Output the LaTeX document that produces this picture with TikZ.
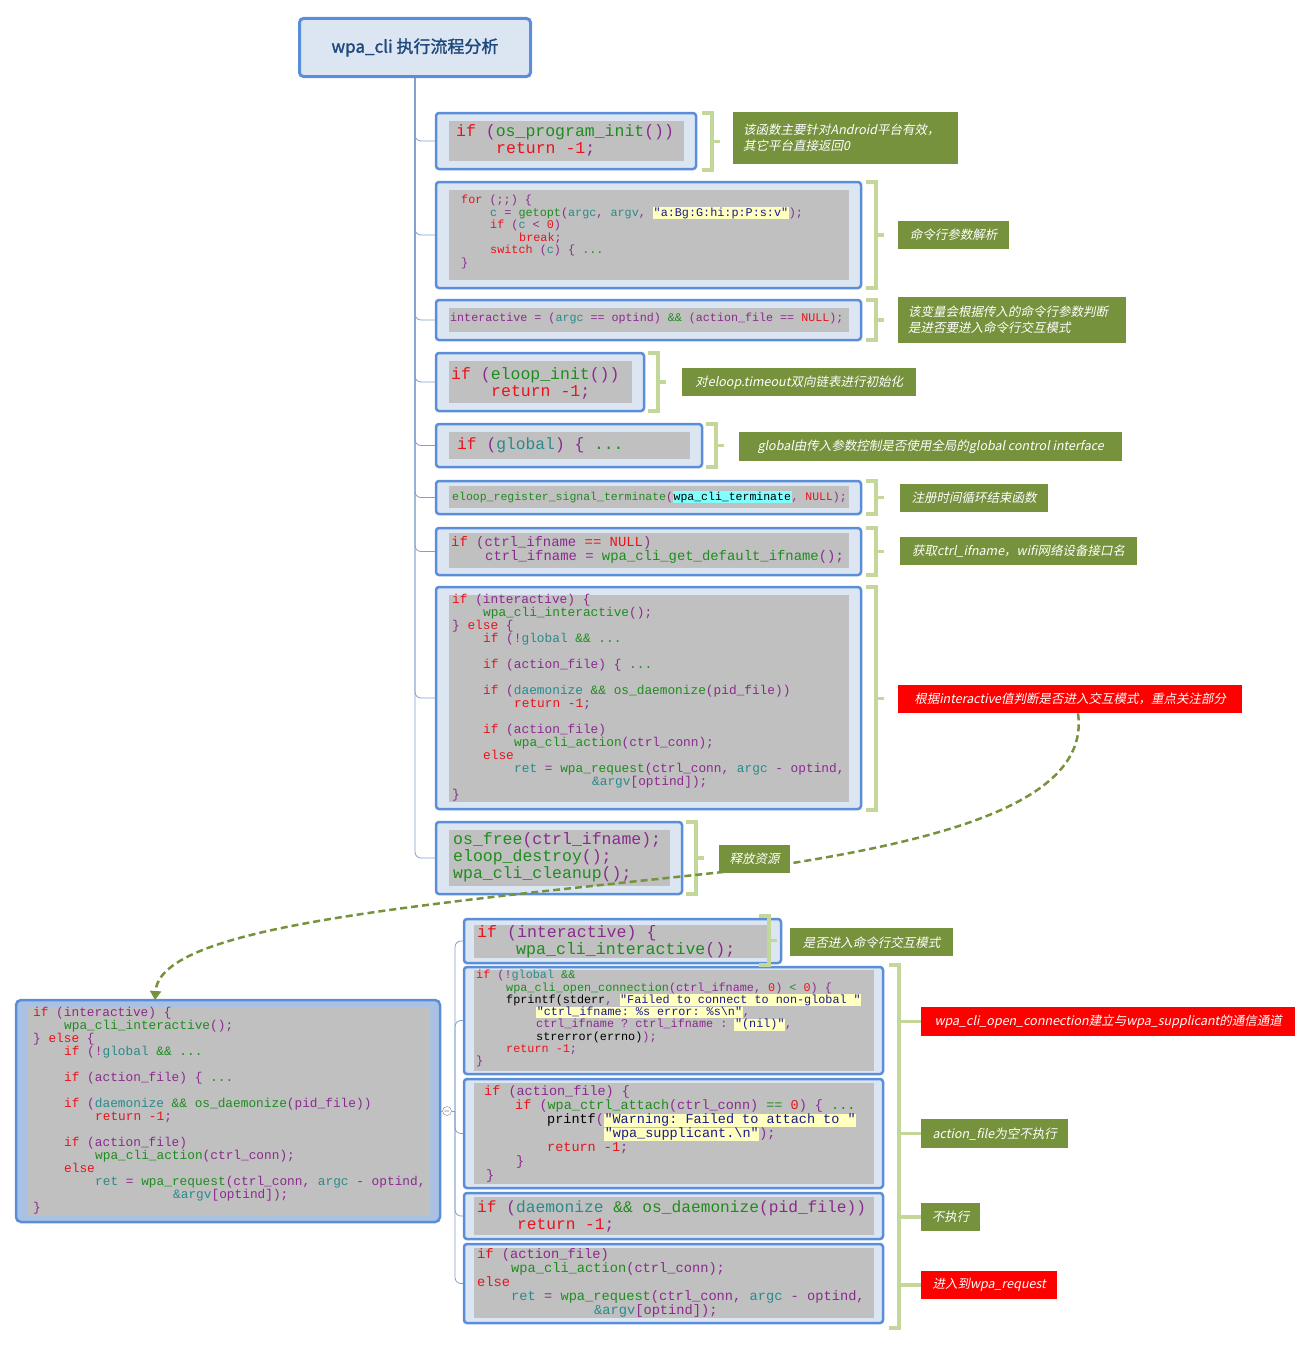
\documentclass[tikz,border=0pt]{standalone}
\usepackage{fontspec}
\usetikzlibrary{fit,arrows.meta}
\setmonofont{Liberation Mono}
\newfontfamily\cjki{Noto Sans CJK SC}[FakeSlant=0.2]
\newfontfamily\cjkb{Noto Sans CJK SC}[FakeBold=1.5]
\definecolor{kw}{HTML}{E8131B}
\definecolor{pu}{HTML}{8B2A8E}
\definecolor{gr}{HTML}{1E8C1E}
\definecolor{te}{HTML}{2A8A8A}
\definecolor{nv}{HTML}{1A1A8C}
\definecolor{hl}{HTML}{FFFFC0}
\definecolor{cy}{HTML}{80FFFF}
\definecolor{bbl}{HTML}{5B8ED8}
\definecolor{bfill}{HTML}{DCE6F2}
\definecolor{lbfill}{HTML}{A9C1E3}
\definecolor{codebg}{HTML}{C0C0C0}
\definecolor{lab}{HTML}{76923C}
\definecolor{brk}{HTML}{C4D79B}
\definecolor{treec}{HTML}{7F9FCF}
\definecolor{ttl}{HTML}{1F497D}
\newcommand\ck[1]{\textcolor{kw}{#1}}
\newcommand\cg[1]{\textcolor{gr}{#1}}
\newcommand\ct[1]{\textcolor{te}{#1}}
\newcommand\cbk[1]{\textcolor{black}{#1}}
\newcommand\cst[1]{{\setlength{\fboxsep}{0.6pt}\colorbox{hl}{\textcolor{nv}{#1}}}}
\newcommand\ind[1]{\hspace*{#1pt}}
% \cbox{name}{x1}{y1}{x2}{y2}{ix1}{iy1}{ix2}{iy2}{tx}{size}{skip}{code}
\newcommand\cbox[9]{%
  \node[obox,fit={(#2,#3)(#4,#5)}] (#1) {};
  \fill[codebg] (#6,#7) rectangle (#8,#9);
  \cboxtext}
\newcommand\cboxtext[4]{\node[anchor=north west,inner sep=0,align=left,text=pu,font=\fontsize{#2}{#3}\selectfont\ttfamily] at (#1) {#4};}
\tikzset{
  obox/.style={draw=bbl,line width=2.5pt,fill=bfill,rounded corners=3pt,inner sep=0pt},
  lbl/.style={fill=lab,text=white,font=\fontsize{12.5}{16}\selectfont\cjki,inner sep=0pt,align=left,anchor=north west},
  rlbl/.style={lbl,fill=red},
  brkt/.style={draw=brk,line width=3.5pt},
  tree/.style={draw=treec,line width=0.8pt,rounded corners=6pt},
}
\newcommand\bracket[4]{% x y1 y2 label
  \draw[brkt] (#1-10,#2) -- (#1,#2) -- (#1,#3) -- (#1-10,#3);
  \draw[brkt] (#1,{(#2+#3)/2}) -- (#1+8,{(#2+#3)/2}) coordinate (#4);}
\begin{document}
\begin{tikzpicture}[x=1pt,y=-1pt]
\useasboundingbox (0,0) rectangle (1312,1346);
% title
\node[draw=bbl,line width=3pt,fill=bfill,rounded corners=4pt,minimum width=231pt,minimum height=58pt,text=ttl,font=\fontsize{17}{20}\selectfont\cjkb] (title) at (415,47.5) {wpa\_cli 执行流程分析};

\cbox{b1}{436}{113}{696}{169}{449}{121}{684}{161}{456,124}{16.5}{17}{\ck{if} (\cg{os\_program\_init}())\\\ind{40}\ck{return -1};}
\cbox{b2}{436}{182}{861}{288}{449}{190}{849}{280}{461,195}{11.8}{12.5}{\ck{for} (;;) \{\\\ind{29}\ct{c} = \cg{getopt}(\ct{argc}, \ct{argv}, \cst{"a:Bg:G:hi:p:P:s:v"});\\\ind{29}\ck{if} (\ct{c} < \ck{0})\\\ind{58}\ck{break};\\\ind{29}\ck{switch} (\ct{c}) \{ \cg{...}\\\}}
\cbox{b3}{436}{300}{861}{340}{449}{308}{849}{332}{450,313}{11.7}{13}{interactive = (\ct{argc} == optind) \cg{\&\&} (action\_file == \ck{NULL});}
\cbox{b4}{436}{353}{644}{411}{449}{361}{632}{403}{451,367}{16.5}{17}{\ck{if} (\cg{eloop\_init}())\\\ind{40}\ck{return -1};}
\cbox{b5}{436}{424}{702}{467}{449}{432}{690}{459}{457,437}{16.3}{17}{\ck{if} (\ct{global}) \{ \cg{...}}
\cbox{b6}{436}{481}{861}{514}{449}{486}{849}{508}{452,491}{11.5}{13}{\cg{eloop\_register\_signal\_terminate}({\setlength{\fboxsep}{0.6pt}\colorbox{cy}{\textcolor{black}{wpa\_cli\_terminate}}}, \ck{NULL});}
\cbox{b7}{436}{528}{861}{575}{449}{533}{849}{568}{451,536}{13.9}{14}{\ck{if} (ctrl\_ifname \ck{== NULL})\\\ind{34}ctrl\_ifname = \cg{wpa\_cli\_get\_default\_ifname}();}
\cbox{b8}{436}{587}{861}{809}{449}{595}{849}{802}{452,594}{12.8}{13}{\ck{if} (interactive) \{\\\ind{31}\cg{wpa\_cli\_interactive}();\\\} \ck{else} \{\\\ind{31}\ck{if} (!\ct{global} \cg{\&\& ...}\\[13pt]\ind{31}\ck{if} (action\_file) \{ \cg{...}\\[13pt]\ind{31}\ck{if} (\ct{daemonize} \cg{\&\& os\_daemonize}(pid\_file))\\\ind{62}\ck{return -1};\\[13pt]\ind{31}\ck{if} (action\_file)\\\ind{62}\cg{wpa\_cli\_action}(ctrl\_conn);\\\ind{31}\ck{else}\\\ind{62}\ct{ret} = \cg{wpa\_request}(ctrl\_conn, \ct{argc} - optind,\\\ind{140}\ct{\&argv}[optind]);\\\}}
\cbox{b9}{436}{822}{682}{894}{449}{830}{670}{886}{453,832}{16.5}{17}{\cg{os\_free}(ctrl\_ifname);\\\cg{eloop\_destroy}();\\\cg{wpa\_cli\_cleanup}();}

% tree
\foreach \b in {b1,b2,b3,b4,b5,b6,b7,b8,b9} \draw[tree] (title.south) |- (\b.west);

% labels + brackets
\node[lbl] (l1) at (733,112) {\parbox[c][52pt][c]{225pt}{\hspace*{10pt}该函数主要针对Android平台有效，\\\hspace*{10pt}其它平台直接返回0}};
\bracket{712}{113}{170}{k1}
\node[lbl] (l2) at (898,221) {\parbox[c][28pt][c]{111pt}{\centering 命令行参数解析}};
\bracket{876}{182}{288}{k2}
\node[lbl] (l3) at (898,297) {\parbox[c][46pt][c]{228pt}{\hspace*{10pt}该变量会根据传入的命令行参数判断\\\hspace*{10pt}是进否要进入命令行交互模式}};
\bracket{876}{300}{340}{k3}
\node[lbl] (l4) at (682,368) {\parbox[c][28pt][c]{234pt}{\centering 对eloop.timeout双向链表进行初始化}};
\bracket{658}{353}{411}{k4}
\node[lbl] (l5) at (739,432) {\parbox[c][29pt][c]{383pt}{\centering global由传入参数控制是否使用全局的global control interface}};
\bracket{716}{424}{467}{k5}
\node[lbl] (l6) at (900,484) {\parbox[c][28pt][c]{148pt}{\centering 注册时间循环结束函数}};
\bracket{876}{481}{514}{k6}
\node[lbl] (l7) at (900,537) {\parbox[c][28pt][c]{237pt}{\centering 获取ctrl\_ifname，wifi网络设备接口名}};
\bracket{876}{528}{575}{k7}
\node[rlbl] (l8) at (898,685) {\parbox[c][28pt][c]{344pt}{\centering 根据interactive值判断是否进入交互模式，重点关注部分}};
\bracket{876}{587}{810}{k8}
\node[lbl] (l9) at (719,845) {\parbox[c][28pt][c]{71pt}{\centering 释放资源}};
\bracket{696}{822}{894}{k9}

% bottom left box
\node[draw=bbl,line width=2.5pt,fill=lbfill,rounded corners=5pt,inner sep=0pt,fit={(16,1000)(440,1222)}] (lb) {};
\fill[codebg] (28,1007) rectangle (430,1216);
\cboxtext{33,1007}{12.8}{13}{\ck{if} (interactive) \{\\\ind{31}\cg{wpa\_cli\_interactive}();\\\} \ck{else} \{\\\ind{31}\ck{if} (!\ct{global} \cg{\&\& ...}\\[13pt]\ind{31}\ck{if} (action\_file) \{ \cg{...}\\[13pt]\ind{31}\ck{if} (\ct{daemonize} \cg{\&\& os\_daemonize}(pid\_file))\\\ind{62}\ck{return -1};\\[13pt]\ind{31}\ck{if} (action\_file)\\\ind{62}\cg{wpa\_cli\_action}(ctrl\_conn);\\\ind{31}\ck{else}\\\ind{62}\ct{ret} = \cg{wpa\_request}(ctrl\_conn, \ct{argc} - optind,\\\ind{140}\ct{\&argv}[optind]);\\\}}

% dashed arrow
\draw[draw=lab,line width=2.5pt,dash pattern=on 7pt off 4pt,-{Triangle[length=9pt,width=11pt]}] (l8.south -| 1078,713) .. controls (1090,800) and (950,840) .. (760,868) .. controls (420,905) and (160,925) .. (155,1000);

% right subtree
\cbox{r1}{464}{919}{781}{963}{474}{925}{770}{958}{477,925}{16.6}{17}{\ck{if} (interactive) \{\\\ind{39}\cg{wpa\_cli\_interactive}();}
\cbox{r2}{464}{967}{883}{1074}{474}{970}{874}{1071}{476,970}{11.8}{12.3}{\ck{if} (!\ct{global} \cg{\&\&}\\\ind{30}\cg{wpa\_cli\_open\_connection}(ctrl\_ifname, \ck{0}) \cg{<} \ck{0}) \{\\\ind{30}\cbk{fprintf(stderr}, \cst{"Failed to connect to non-global "}\\\ind{60}\cst{"ctrl\_ifname: \%s  error: \%s\textbackslash n"},\\\ind{60}ctrl\_ifname ? ctrl\_ifname : \cst{"(nil)"},\\\ind{60}\cbk{strerror(errno)});\\\ind{30}\ck{return -1};\\\}}
\cbox{r3}{464}{1079}{883}{1188}{474}{1083}{874}{1184}{484,1086}{13.5}{14}{\ck{if} (action\_file) \{\\\ind{31}\ck{if} (\cg{wpa\_ctrl\_attach}(ctrl\_conn) \cg{==} \ck{0}) \{ \cg{...}\\\ind{63}\cbk{printf}(\cst{"Warning: Failed to attach to "}\\\ind{120}\cst{"wpa\_supplicant.\textbackslash n"});\\\ind{63}\ck{return -1};\\\ind{32}\}\\\ind{2}\}}
\cbox{r4}{464}{1193}{883}{1239}{474}{1197}{874}{1235}{477,1201}{16.2}{17}{\ck{if} (\ct{daemonize} \cg{\&\& os\_daemonize}(pid\_file))\\\ind{40}\ck{return -1};}
\cbox{r5}{464}{1244}{883}{1323}{474}{1248}{874}{1318}{477,1248}{13.7}{14}{\ck{if} (action\_file)\\\ind{34}\cg{wpa\_cli\_action}(ctrl\_conn);\\\ck{else}\\\ind{34}\ct{ret} = \cg{wpa\_request}(ctrl\_conn, \ct{argc} - optind,\\\ind{117}\ct{\&argv}[optind]);}

\node[circle,draw=gray,fill=white,inner sep=0pt,minimum size=9pt,font=\fontsize{8}{8}\selectfont] (mc) at (447,1111) {$-$};
\draw[tree] (lb.east) -- (mc.west);
\coordinate (rt) at (455,1111);
\draw[tree] (mc.east) -- (rt);
\foreach \b in {r1,r2,r3,r4,r5} \draw[tree] (rt) |- (\b.west);

\node[lbl] (m1) at (790,928) {\parbox[c][28pt][c]{163pt}{\centering 是否进入命令行交互模式}};
\bracket{769}{916}{965}{n1}
\draw[brkt] (889,965) -- (899,965) -- (899,1328) -- (889,1328);
\node[rlbl] (m2) at (921,1007) {\parbox[c][29pt][c]{374pt}{\centering wpa\_cli\_open\_connection建立与wpa\_supplicant的通信通道}};
\node[lbl] (m3) at (921,1119) {\parbox[c][29pt][c]{147pt}{\centering action\_file为空不执行}};
\node[lbl] (m4) at (921,1203) {\parbox[c][28pt][c]{59pt}{\centering 不执行}};
\node[rlbl] (m5) at (921,1271) {\parbox[c][28pt][c]{136pt}{\centering 进入到wpa\_request}};
\foreach \m in {m2,m3,m4,m5} \draw[brkt] (899,0 |- \m.west) -- (\m.west);
\end{tikzpicture}
\end{document}
